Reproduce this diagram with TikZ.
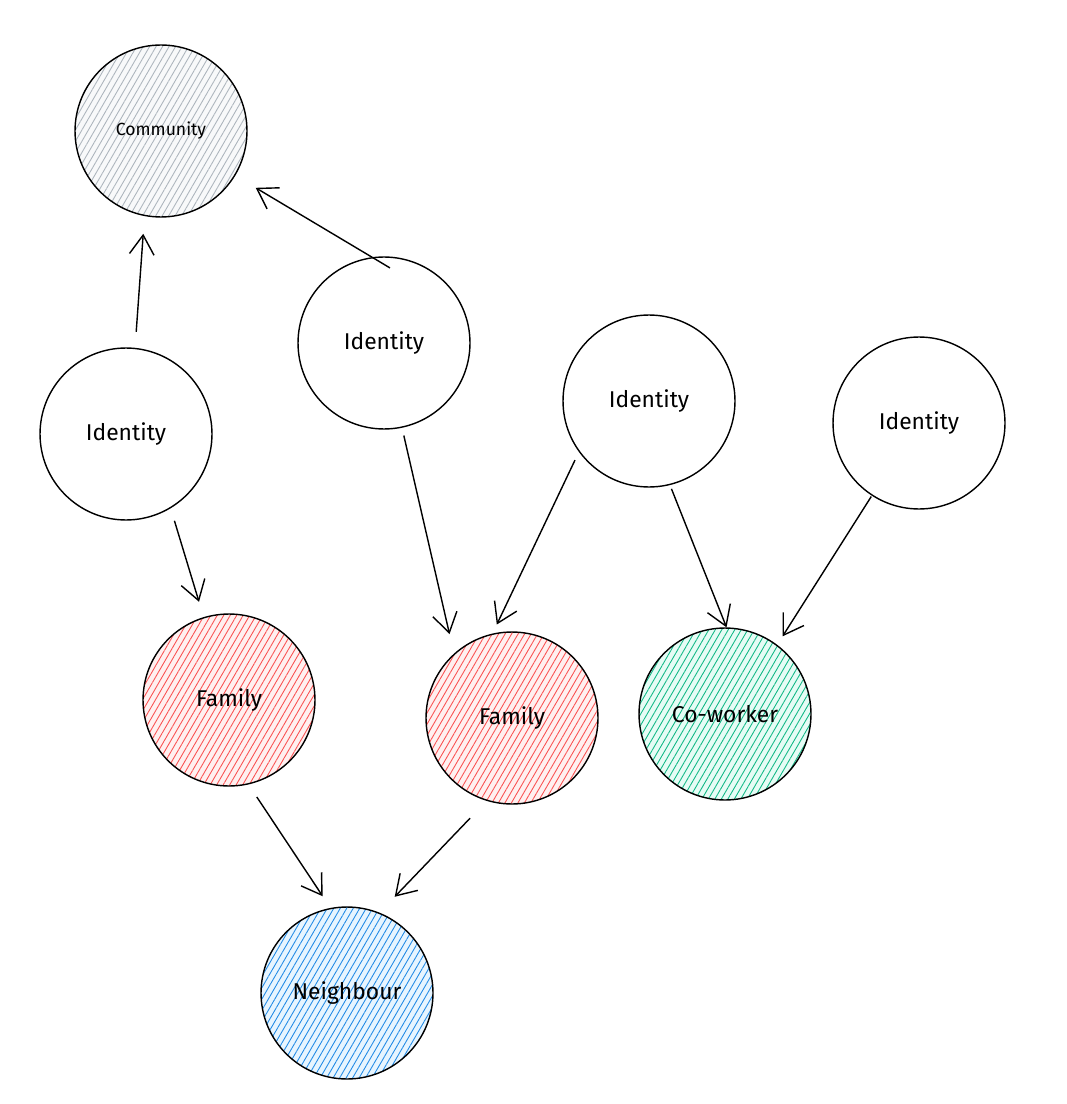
\documentclass[tikz,border=0pt]{standalone}
\usepackage{fontspec}
\setmainfont{Fira Sans}
\usetikzlibrary{arrows.meta,patterns.meta}
\definecolor{famred}{HTML}{FA5252}
\definecolor{famfill}{HTML}{FFF0F0}
\definecolor{cwgreen}{HTML}{12B886}
\definecolor{cwfill}{HTML}{E6FCF5}
\definecolor{nbblue}{HTML}{228BE6}
\definecolor{nbfill}{HTML}{E7F5FF}
\definecolor{cmgray}{HTML}{ADB5BD}
\definecolor{cmfill}{HTML}{F8F9FA}
\tikzset{
  circ/.style={circle,draw=black,line width=0.8pt,minimum size=3.44cm,inner sep=0pt,font=\fontsize{13}{15}\selectfont},
  hatch/.style 2 args={preaction={fill=#2},pattern={Lines[angle=60,distance=3.2pt,line width=0.5pt]},pattern color=#1},
  arr/.style 2 args={-{Straight Barb[length=11pt,width=14pt]},line width=0.8pt,shorten <=#1*0.02cm,shorten >=#2*0.02cm}
}
\begin{document}
\begin{tikzpicture}[x=0.02cm,y=-0.02cm]
\useasboundingbox[fill=white] (0,0) rectangle (1066,1104);
\node[circ,hatch={cmgray}{cmfill},font=\fontsize{10}{12}\selectfont] (comm) at (161,131) {Community};
\node[circ] (id1) at (126,434) {Identity};
\node[circ] (id2) at (384,343) {Identity};
\node[circ] (id3) at (649,401) {Identity};
\node[circ] (id4) at (919,423) {Identity};
\node[circ,hatch={famred}{famfill}] (fam1) at (229,700) {Family};
\node[circ,hatch={famred}{famfill}] (fam2) at (512,718) {Family};
\node[circ,hatch={cwgreen}{cwfill}] (cw) at (725,714) {Co-worker};
\node[circ,hatch={nbblue}{nbfill}] (nb) at (347,993) {Neighbour};
\draw[arr={16}{18}] (id1.84) -- (comm.-101);
\draw[arr={-21}{24}] (id2.98) -- (comm.-31);
\draw[arr={13}{16}] (id1.-59) -- (fam1.107);
\draw[arr={8}{20}] (id2.-78) -- (fam2.132);
\draw[arr={9}{10}] (id3.-144) -- (fam2.103);
\draw[arr={4}{0}] (id3.-76) -- (cw.89);
\draw[arr={1}{10}] (id4.-123) -- (cw.53);
\draw[arr={15}{14}] (fam1.-77) -- (nb.101);
\draw[arr={24}{22}] (fam2.-107) -- (nb.68);
\end{tikzpicture}
\end{document}
